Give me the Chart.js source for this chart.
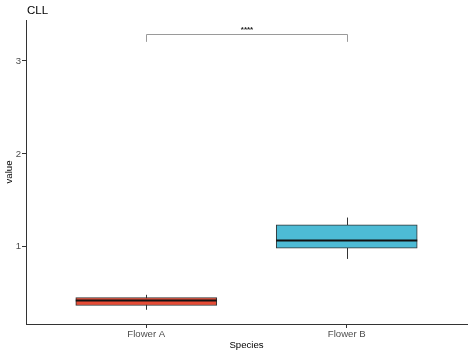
<!DOCTYPE html>
<html>
<head>
<meta charset="utf-8">
<script src="https://cdn.jsdelivr.net/npm/chart.js@4"></script>
<style>
  body { margin: 0; background: #fff; }
</style>
</head>
<body>
<canvas id="boxChart" width="474" height="355"></canvas>
<script>
// data
const species = ['Flower A', 'Flower B'];
const lowerWhisker = [0.323, 0.87];
const q1 = [0.369, 0.986];
const median = [0.423, 1.068];
const q3 = [0.455, 1.237];
const upperWhisker = [0.484, 1.315];
const yTicks = [1, 2, 3];
const fills = ['#E64B35', '#4DBBD5'];

// significance bracket
const bracketFrom = 1;
const bracketTo = 2;
const bracketY = 3.29;
const bracketDrop = 0.085;
const bracketLabel = '****';
const chartTitle = 'CLL';

const FONT = "'Liberation Sans', Arial, sans-serif";

const boxParts = {
    id: 'boxParts',
    beforeDatasetsDraw(chart) {
        const ctx = chart.ctx;
        const x = chart.scales.x, y = chart.scales.y;
        ctx.save();
        ctx.strokeStyle = '#333';
        ctx.lineWidth = 1;
        species.forEach(function (s, i) {
            const px = Math.round(x.getPixelForValue(i + 1)) + 0.5;
            ctx.beginPath();
            ctx.moveTo(px, y.getPixelForValue(lowerWhisker[i]));
            ctx.lineTo(px, y.getPixelForValue(upperWhisker[i]));
            ctx.stroke();
        });
        ctx.restore();
    },
    afterDatasetsDraw(chart) {
        const ctx = chart.ctx;
        const x = chart.scales.x, y = chart.scales.y;
        const meta = chart.getDatasetMeta(0);
        ctx.save();
        // medians
        ctx.strokeStyle = '#111';
        ctx.lineWidth = 2;
        meta.data.forEach(function (bar, i) {
            const py = y.getPixelForValue(median[i]);
            ctx.beginPath();
            ctx.moveTo(bar.x - bar.width / 2, py);
            ctx.lineTo(bar.x + bar.width / 2, py);
            ctx.stroke();
        });
        // bracket
        const x1 = Math.round(x.getPixelForValue(bracketFrom)) + 0.5;
        const x2 = Math.round(x.getPixelForValue(bracketTo)) + 0.5;
        const yb = Math.round(y.getPixelForValue(bracketY)) + 0.5;
        const yd = y.getPixelForValue(bracketY - bracketDrop);
        ctx.strokeStyle = '#9a9a9a';
        ctx.lineWidth = 1;
        ctx.beginPath();
        ctx.moveTo(x1, yd);
        ctx.lineTo(x1, yb);
        ctx.lineTo(x2, yb);
        ctx.lineTo(x2, yd);
        ctx.stroke();
        ctx.fillStyle = '#222';
        ctx.font = 'bold 8px ' + FONT;
        ctx.textAlign = 'center';
        ctx.textBaseline = 'bottom';
        ctx.fillText(bracketLabel, (x1 + x2) / 2, yb - 1);
        // title
        ctx.font = '11.5px ' + FONT;
        ctx.fillStyle = '#000';
        ctx.textAlign = 'left';
        ctx.textBaseline = 'middle';
        ctx.fillText(chartTitle, chart.chartArea.left + 1, 11);
        ctx.restore();
    }
};

const ctx = document.getElementById('boxChart');
new Chart(ctx, {
    type: 'bar',
    data: {
        datasets: [{
            label: 'value',
            data: species.map(function (s, i) { return { x: i + 1, y: [q1[i], q3[i]] }; }),
            backgroundColor: fills,
            borderColor: '#333',
            borderWidth: 1,
            borderSkipped: false,
            barThickness: 141
        }]
    },
    options: {
        responsive: false,
        animation: false,
        layout: { padding: { top: 20, right: 7, left: 0, bottom: 0 } },
        plugins: {
            legend: { display: false },
            tooltip: { enabled: false }
        },
        scales: {
            x: {
                type: 'linear',
                offset: false,
                min: 0.4,
                max: 2.6,
                afterBuildTicks: function (scale) {
                    scale.ticks = species.map(function (s, i) { return { value: i + 1 }; });
                },
                afterFit: function (scale) { scale.height = 31; },
                ticks: {
                    callback: function (v) { return species[v - 1]; },
                    color: '#4d4d4d',
                    font: { family: FONT, size: 9.6 },
                    padding: 1,
                    maxRotation: 0
                },
                grid: { offset: false, drawOnChartArea: false, tickLength: 4, color: '#333' },
                border: { display: true, color: '#333', width: 1 },
                title: {
                    display: true, text: 'Species', color: '#000',
                    font: { family: FONT, size: 9.6 }, padding: { top: 0, bottom: 4 }
                }
            },
            y: {
                min: 0.17,
                max: 3.44,
                afterBuildTicks: function (scale) {
                    scale.ticks = yTicks.map(function (v) { return { value: v }; });
                },
                afterFit: function (scale) { scale.width = 26; },
                ticks: {
                    color: '#4d4d4d',
                    font: { family: FONT, size: 9.6 },
                    padding: 1
                },
                grid: { drawOnChartArea: false, tickLength: 4, color: '#333' },
                border: { display: true, color: '#333', width: 1 },
                title: {
                    display: true, text: 'value', color: '#000',
                    font: { family: FONT, size: 9.6 }, padding: { top: 4, bottom: 0 }
                }
            }
        }
    },
    plugins: [boxParts]
});
</script>
</body>
</html>
